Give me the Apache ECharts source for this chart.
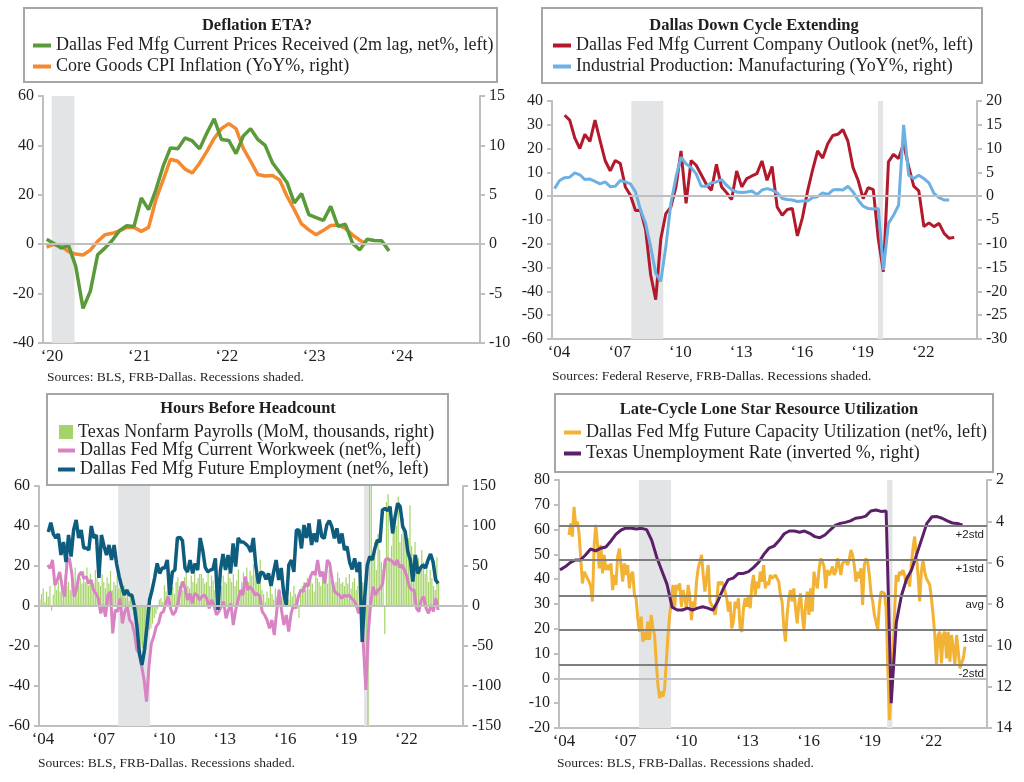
<!DOCTYPE html>
<html style="height: 100%">
<head>
    <meta charset="utf-8">
    <script type="text/javascript" src="https://cdn.jsdelivr.net/npm/echarts@6/dist/echarts.min.js"></script>
</head>
<body style="height: 100%; margin: 0; background: #fff">
    <div id="main" style="width: 1024px; height: 782px"></div>
    <script type="text/javascript">
        // ---- panel 1: Deflation ETA? (monthly, from Jan 2020)
        var pricesReceived = [2, 0.3, -1.6, -0.5, -9, -26, -19, -4.3, -1.6, 1.5, 5.5, 7.5,
            7.2, 18.7, 14, 22, 31.6, 39, 38.6, 43, 41.8, 38.6, 45, 50.8,
            42.4, 42, 36.7, 43.8, 46.8, 42.4, 40, 33, 29, 25, 16.7, 20.5,
            12, 10.8, 9.6, 15.3, 7.2, 8.1, 0.4, -2.3, 2, 1.5, 1.4, -2.7];
        var coreGoodsCpi = [-0.3, 0, -0.2, -0.75, -1, -1.1, -0.6, 0.3, 0.95, 1.1, 1.35, 1.7,
            1.7, 1.3, 1.7, 4.5, 6.5, 8.6, 8.4, 7.6, 7.2, 8.2, 9.4, 10.7,
            11.7, 12.2, 11.7, 9.7, 8.4, 7.05, 6.9, 6.95, 6.5, 4.85, 3.5, 2.05,
            1.45, 0.95, 1.4, 1.9, 1.95, 1.6, 0.95, 0.4, 0];

        // ---- panel 2: Dallas Down Cycle Extending (quarterly)
        var companyOutlook = [34, 32, 24.5, 20, 26, 23, 32, 23.4, 15, 10.6,
            15, 13.7, 3.9, 0.4, -6, -5.9, -14, -33, -43.5, -18,
            -7.3, -4.5, 3.9, 19, -3, 15, 13, 9, 5, 2.5,
            13.4, 4, 1.5, -1.4, 10.6, 3.9, 7.4, 8.5, 9.5, 14.8,
            6.7, 12.5, -4.5, -8, -5.6, -5.2, -16.7, -9, 2, 11,
            19, 16, 22, 25.5, 26, 28, 23, 12, 6.7, -1,
            3.6, 2.8, -18, -31.7, 14.4, 17.6, 15.8, 22, 12.3, 4.2,
            2.2, -12.8, -11.2, -12.8, -11.4, -15.6, -17.7, -17.3];
        var ipManufacturing = [1.6, 3.3, 3.9, 4, 4.9, 4.5, 3.5, 3.6, 3.1, 2.6,
            3, 2, 2.1, 3.3, 3, 2.6, 0.9, -2.9, -5.7, -10.6,
            -16.2, -17.9, -10.6, -1.5, 4, 8.2, 6.8, 6, 4.7, 2.1,
            2.1, 2.8, 3, 3.5, 2.3, 1.4, 0.9, 0.8, 0.9, 1.1,
            0.35, 1.3, 1.6, 1.3, 0.7, -0.5, -0.7, -0.8, -1.1, -1,
            -1, -0.3, -0.1, 0.7, 0.35, 1.3, 1.4, 1.3, 2.1, 0.9,
            -0.8, -2.1, -2.6, -2.7, -2.6, -15.5, -5.7, -4, -1.9, 15,
            4.4, 3.7, 4.4, 3.7, 2.8, 0.6, -0.3, -0.8, -0.8];

        // ---- panel 3: Hours Before Headcount
        // Texas payrolls, monthly from Jan 2004 (clipped at +-150 like the original)
        var txPayrolls = [
            8, 15, 22, 5, 18, 12, 25, -6, 14, 28, 20, 30,
            18, 32, 22, 38, 25, 30, 20, 42, 24, 48, 30, 26,
            35, 28, 44, 30, 48, 26, 40, 33, 28, 45, 35, 30,
            25, 40, 30, 22, 36, 28, 44, 20, 30, 26, 38, 22,
            20, 14, 26, 10, 18, 6, 12, -5, -12, -18, -28, -38,
            -48, -52, -42, -55, -38, -30, -28, -22, -15, -10, -4, 8,
            10, 5, 26, 18, 32, 12, 22, 24, 15, 30, 36, 25,
            30, 20, 36, 42, 25, 22, 38, 30, 46, 28, 35, 40,
            40, 35, 28, 30, 45, 25, 38, 32, 20, 42, 30, 36,
            25, 38, 30, 28, 42, 35, 30, 40, 25, 32, 46, 20,
            30, 42, 35, 48, 30, 44, 38, 52, 40, 46, 35, 58,
            20, 15, 5, 18, 10, 25, 15, 8, 22, 12, 22, 18,
            12, 15, 6, 20, 8, 18, 12, 25, 15, 10, -15, 22,
            25, 30, 20, 35, 22, 40, 28, 18, 45, 35, 30, 25,
            35, 30, 42, 28, 45, 32, 38, 25, 30, 42, 35, 28,
            30, 25, 36, 28, 40, 22, 30, 35, 20, 25, 32, 28,
            30, 20, -60, -150, 150, 150, 60, 80, 45, 90, 70, 55,
            45, -35, 130, 140, 60, 75, 95, 115, 100, 137, 80, 90,
            110, 95, 70, 85, 126, 75, 65, 80, 55, 60, 45, 70,
            55, 40, 50, 30, 45, 35, 25, 20, 61, 30];
        // surveys, evenly spaced between first and last date
        var futureEmployment = [37, 41.7, 36, 34, 36, 25.5, 32, 22, 35.5, 24.7,
            38, 43, 34, 38, 29, 29, 28, 40, 34, 35.5,
            14, 35.5, 30, 25.5, 30.5, 23, 30.5, 21, 14.7, 9.7,
            5.5, 8, 5.5, 5.5, -0.3, -10, -23.7, -29.5, -22, -10,
            3, 8, 14, 21.3, 16.3, 19, 19, 23, 5.5, 17,
            18, 34, 34.3, 32.7, 19, 17, 23, 16.3, 21.3, 18,
            34, 28, 19.3, 17, 18, 18.3, 23.8, -2, 18, 26,
            18, 25.5, 16.3, 31.3, 19.7, 34, 32,
            32, 31, 29.7, 27, 34, 19.7, 11.3, 17, 16.3, 13.3,
            16.3, 10, 17, 23, 13, 19, 6.3, 0.5, 20.5, 23,
            17, 38, 38, 28.8, 40.5, 34, 41.3, 30.5, 36.3, 32,
            43.3, 34.7, 33.8, 40.5, 42.7, 39.7, 33.8, 38.8, 31.3, 36.3,
            28, 29.7, 22, 18.3, 23.8, 17, 22, -18, 4.7, 20.5,
            24.7, 23, 28.8, 33, 32, 48, 48.8, 47.7, 49.7, 36.3,
            44.7, 51.3, 49.7, 39.7, 37.2, 27.2, 23, 12.2, 25.5, 16.3,
            19, 20.5, 19, 23, 26, 22, 13, 11.3];
        var workweek = [20.5, 18.8, 23, 10.5, 13, 17, 9.7, 4.7, 22, 24,
            16.3, 4.7, 8.8, 15.5, 17, 13.8, 14.7, 11.3, 13, 8,
            6.3, 3.8, -3.7, 0.5, -5.3, 5.5, 7.2, -13.7, -2, -2.8,
            3.8, -8.7, -2.8, -0.3, -7, -8.7, -13.7, -22, -23.7, -30.3,
            -37, -47.8, -30.3, -18.7, -15.3, -10.3, -8.7, -3.7, -2.8, 1.3,
            4.7, -1.2, -4.5, -2.8, 1.3, 8, 12.2, 8.8, 3, 6.3,
            1.3, 6.3, 5.5, 3, 4.7, 5.5, 3.8, -1.2, 3, 0.5,
            -4.5, -2.8, -0.3, 2.2, -6.2, -2, 1.3, -9.5, -2, 3,
            8, 5.5,
            14.7, 8, 9.7, 8, 5.5, 6.3, 4.7, -2.8, -4.5, -7,
            -11.2, -7, -14.5, -2.8, 8, -2, -9.5, -4.5, -12.8, -3.7,
            0.5, -1.2, 4.7, 8, 7.2, 11.3, 9.7, 14.7, 17.2, 15.5,
            23, 14.7, 17.2, 11.3, 23, 21.3, 13, 7.2, 6.3, 5.5,
            3.8, 5.5, 4.7, 5.5, 3.8, 3, 0.5, -3.7, 0.5, -20.3,
            -42, -13.7, 1.3, 9.7, 5.5, 8, 8.8, 11.3, 23, 23.8,
            23, 22.2, 20.5, 23, 19.3, 20.5, 18, 14.7, 9.7, 8,
            8, -1.2, -2.8, 3, 4.7, -1.2, -3.7, 0.5, -2.8, 3.8, -2];

        // ---- panel 4: Late-Cycle Lone Star Resource Utilization
        var capacityUtil = [57.8, 62.5, 57.2, 69.2, 61.9, 63.2, 58.5, 48.4, 38.3, 43,
            41.7, 40.3, 39, 37, 31, 53.8, 61.9, 53.8, 44.4, 53.8,
            42.4, 49.8, 43.7, 45.7, 43.7, 46.4, 35.6, 41.7, 37.7, 49.1,
            52.4, 45.7, 39, 46.4, 41.7, 45.7, 36.3, 41.7, 43, 33.6,
            32.3, 24.2, 18.8, 24.9, 14.8, 18.8, 15.5, 22.9, 15.5, 25.6,
            20.2, 17.5, 6.7, -2.7, -8, -5.3, -7.4, -4, 6.7, 17.5,
            25.6, 31, 37.7, 28.9, 37.7, 35.6, 38.3, 28.9, 35.6, 32.3,
            28.3, 37.7, 33, 23.5, 31, 28.9, 39, 44.4, 47.1, 49.8,
            41.7, 35, 41, 45.7, 31, 31.6, 28.3, 25.6, 29.6, 39,
            37.7, 39, 37.7, 35, 32.3, 26.9, 31, 20.2, 22.9, 31,
            28.3, 32.3, 20.2, 18.8, 28.3, 32.3, 28.9, 33.6, 28.3, 37.7,
            41.7, 33.6, 39, 36.3, 43, 39, 45.7, 36.3, 39, 37.7,
            41.7, 40.3,
            40.3, 41.7, 42.4, 39, 33.6, 31, 20.9, 14.8, 25.6, 32.3,
            35.6, 31, 36.3, 28.3, 22.2, 30.2, 34.3, 25.6, 19.5, 29.6,
            35, 25.6, 36.3, 26.9, 43, 39, 36.3, 43.7, 48.4, 47.1,
            45.1, 36.3, 43.7, 41.7, 43, 45.1, 41.7, 43, 48.4, 45.7,
            41.7, 46.4, 47.1, 47.7, 45.7, 47.7, 51.8, 49.8, 45.7, 39,
            43, 40.3, 44.4, 29.6, 45.7, 48.4, 47.1, 41.7, 34.3, 31,
            25.6, 22.9, 19.5, 29.6, 35, 35.6, 34.3, 28.3, 4.1, -16.8,
            -17.4, 6.7, 25.6, 41.7, 39, 43, 41.7, 43.7, 41.7, 38.3,
            41.7, 37, 45.7, 52.4, 57.2, 49.8, 41.7, 31, 43, 47.7,
            43, 40.3, 39, 37.7, 32.3, 25.6, 17.5, 5.4, 17.5, 18.8,
            6, 17.5, 18.8, 8.1, 18.8, 6.7, 17.5, 12.1, 5.4, 17.5,
            10.8, 4.1, 4.7, 8.1, 12.8];
        // quarterly
        var txUnemployment = [6.35, 6.2, 6.0, 5.87, 5.87, 5.63, 5.34, 5.43, 5.3, 5.24,
            4.95, 4.62, 4.42, 4.32, 4.34, 4.37, 4.34, 4.4, 4.92, 5.75,
            6.4, 7.05, 8.15, 8.29, 8.29, 8.2, 8.29, 8.2, 8.13, 8.2,
            8.3, 7.85, 7.28, 6.82, 6.75, 6.52, 6.52, 6.43, 6.23, 5.98,
            5.6, 5.3, 5.2, 4.93, 4.6, 4.47, 4.47, 4.53, 4.47, 4.58,
            4.74, 4.79, 4.66, 4.42, 4.2, 4.1, 4.05, 3.98, 3.85, 3.82,
            3.75, 3.5, 3.45, 3.52, 3.5, 12.8, 8.9, 7.6, 6.8, 6.35,
            5.6, 4.85, 4.1, 3.78, 3.77, 3.85, 3.98, 4.08, 4.1, 4.18];
        var stdLevels = [61.5, 47.7, 33.3, 19.5, 5.4];
        var stdLabels = ['+2std', '+1std', 'avg', '1std', '-2std'];

        var recessions = [[2007.92, 2009.5], [2020.1, 2020.36]];

        var SERIF = "'Liberation Serif', 'Times New Roman', serif";
        var TXT = '#1f1f1f';
        var AXIS = '#bfbfbf';

        function byMonth(y0, vals) {
            return vals.map(function (v, i) { return [y0 + (i + 0.5) / 12, v]; });
        }
        function byQuarter(x0, vals) {
            return vals.map(function (v, i) { return [x0 + i * 0.25, v]; });
        }
        function spread(x0, x1, vals) {
            var n = vals.length - 1;
            return vals.map(function (v, i) { return [x0 + (x1 - x0) * i / n, v]; });
        }

        function xAx(grid, min, max, interval, shift) {
            return {
                type: 'value', gridIndex: grid, min: min, max: max, interval: interval,
                axisLine: { onZero: false, lineStyle: { color: AXIS, width: 2 } },
                axisTick: { show: false },
                splitLine: { show: false },
                axisLabel: {
                    showMaxLabel: false, fontFamily: SERIF, fontSize: 17, color: TXT, margin: 5,
                    padding: [0, 0, 0, shift],
                    formatter: function (v) { return '\u2018' + String(v).slice(2); }
                }
            };
        }
        function yAx(grid, pos, min, max, interval, inverse) {
            return {
                type: 'value', gridIndex: grid, position: pos, min: min, max: max,
                interval: interval, inverse: !!inverse,
                axisLine: { show: true, onZero: false, lineStyle: { color: AXIS, width: 2 } },
                axisTick: { show: true, length: 5, lineStyle: { color: AXIS, width: 2 } },
                splitLine: { show: false },
                axisLabel: { fontFamily: SERIF, fontSize: 16, color: TXT, margin: 9 }
            };
        }

        // background series: recession shading + zero line
        function backdrop(idx, xmin, xmax, extraLines) {
            var areas = recessions.filter(function (r) { return r[1] > xmin && r[0] < xmax; })
                .map(function (r) { return [{ xAxis: r[0] }, { xAxis: r[1] }]; });
            var lines = [{ yAxis: 0 }].concat(extraLines || []);
            return {
                name: 'bg' + idx, type: 'line', xAxisIndex: idx, yAxisIndex: idx * 2,
                data: [], z: 1, silent: true,
                markArea: { silent: true, itemStyle: { color: '#e3e4e6' }, data: areas },
                markLine: {
                    silent: true, symbol: ['none', 'none'], label: { show: false },
                    lineStyle: { color: AXIS, width: 2, type: 'solid' }, data: lines
                }
            };
        }
        function line(name, idx, yIdx, data, color, width) {
            return {
                name: name, type: 'line', xAxisIndex: idx, yAxisIndex: yIdx, data: data,
                showSymbol: false, z: 3, color: color,
                lineStyle: { color: color, width: width || 3 }
            };
        }

        var stdLines = stdLevels.map(function (v, i) {
            return {
                yAxis: v,
                lineStyle: { color: '#7f7f7f', width: 2 },
                label: {
                    show: true, position: 'insideEndBottom', formatter: stdLabels[i],
                    fontFamily: "'Liberation Sans', Arial, sans-serif", fontSize: 11.5,
                    color: TXT, distance: 3
                }
            };
        });

        var names = {
            p1a: 'Dallas Fed Mfg Current Prices Received (2m lag, net%, left)',
            p1b: 'Core Goods CPI Inflation (YoY%, right)',
            p2a: 'Dallas Fed Mfg Current Company Outlook (net%, left)',
            p2b: 'Industrial Production: Manufacturing (YoY%, right)',
            p3a: 'Texas Nonfarm Payrolls (MoM, thousands, right)',
            p3b: 'Dallas Fed Mfg Current Workweek (net%, left)',
            p3c: 'Dallas Fed Mfg Future Employment (net%, left)',
            p4a: 'Dallas Fed Mfg Future Capacity Utilization (net%, left)',
            p4b: 'Texas Unemployment Rate (inverted %, right)'
        };

        function legend(data, left, top, w, h, lh) {
            return {
                data: data, orient: 'vertical', left: left, top: top, icon: 'rect',
                itemWidth: w, itemHeight: h, itemGap: 0, selectedMode: false, padding: 0,
                textStyle: { fontFamily: SERIF, fontSize: 18, color: TXT, lineHeight: lh || 21 }
            };
        }

        function box(x, y, w, h) {
            return { type: 'rect', z: 0, shape: { x: x, y: y, width: w, height: h },
                style: { fill: '#fff', stroke: '#a6a6a6', lineWidth: 2 } };
        }
        function title(text, x, y) {
            return { type: 'text', z: 5, x: x, y: y,
                style: { text: text, font: 'bold 16.5px ' + SERIF, fill: TXT, align: 'center', verticalAlign: 'middle' } };
        }
        function source(text, x, y) {
            return { type: 'text', z: 5, x: x, y: y,
                style: { text: text, font: '13.5px ' + SERIF, fill: TXT, align: 'left', verticalAlign: 'middle' } };
        }

        var chart = echarts.init(document.getElementById('main'));
        var option = {
            animation: false,
            backgroundColor: '#fff',
            grid: [
                { left: 43, top: 96, width: 437, height: 247 },
                { left: 552, top: 101, width: 425, height: 238 },
                { left: 39, top: 486, width: 424, height: 240 },
                { left: 559, top: 480, width: 428, height: 248 }
            ],
            xAxis: [
                xAx(0, 2020, 2025, 1, 18),
                xAx(1, 2004, 2025, 3, 14),
                xAx(2, 2004, 2025, 3, 8),
                xAx(3, 2004, 2025, 3, 10)
            ],
            yAxis: [
                yAx(0, 'left', -40, 60, 20), yAx(0, 'right', -10, 15, 5),
                yAx(1, 'left', -60, 40, 10), yAx(1, 'right', -30, 20, 5),
                yAx(2, 'left', -60, 60, 20), yAx(2, 'right', -150, 150, 50),
                yAx(3, 'left', -20, 80, 10), yAx(3, 'right', 2, 14, 2, true)
            ],
            legend: [
                legend([names.p1a, names.p1b], 33, 35, 18, 4),
                legend([names.p2a, names.p2b], 553, 35, 18, 4),
                legend([names.p3a], 59, 422, 14, 14, 20),
                legend([names.p3b, names.p3c], 58, 441, 17, 4, 19),
                legend([names.p4a, names.p4b], 564, 422, 17, 4)
            ],
            graphic: [
                box(24, 8, 473, 74), title('Deflation ETA?', 257, 26),
                box(542, 8, 440, 75), title('Dallas Down Cycle Extending', 754, 26),
                box(47, 394, 401, 91), title('Hours Before Headcount', 248, 409),
                box(555, 394, 438, 78), title('Late-Cycle Lone Star Resource Utilization', 769, 410),
                source('Sources: BLS, FRB-Dallas. Recessions shaded.', 47, 377),
                source('Sources: Federal Reserve, FRB-Dallas. Recessions shaded.', 552, 376),
                source('Sources: BLS, FRB-Dallas. Recessions shaded.', 38, 763),
                source('Sources: BLS, FRB-Dallas. Recessions shaded.', 557, 763)
            ],
            series: [
                backdrop(0, 2020, 2025),
                line(names.p1b, 0, 1, byMonth(2020, coreGoodsCpi), '#f4892f', 3.5),
                line(names.p1a, 0, 0, byMonth(2020, pricesReceived), '#5b9a38', 3.5),

                backdrop(1, 2004, 2025),
                line(names.p2a, 1, 2, byQuarter(2004.625, companyOutlook), '#b3192c', 3),
                line(names.p2b, 1, 3, byQuarter(2004.125, ipManufacturing), '#6cb0e4', 3),

                backdrop(2, 2004, 2025),
                {
                    name: names.p3a, type: 'bar', xAxisIndex: 2, yAxisIndex: 5,
                    data: byMonth(2004, txPayrolls), barWidth: 1.2, z: 2, color: '#a6d46b',
                    itemStyle: { color: '#a6d46b' }
                },
                line(names.p3b, 2, 4, spread(2004.43, 2023.77, workweek), '#d883c3', 3),
                line(names.p3c, 2, 4, spread(2004.46, 2023.77, futureEmployment), '#0e5c7e', 3.5),

                backdrop(3, 2004, 2025, stdLines),
                line(names.p4a, 3, 6, spread(2004.49, 2023.92, capacityUtil), '#f2b234', 3),
                line(names.p4b, 3, 7, byQuarter(2004.05, txUnemployment), '#5b2068', 3)
            ]
        };
        chart.setOption(option);
    </script>
</body>
</html>
